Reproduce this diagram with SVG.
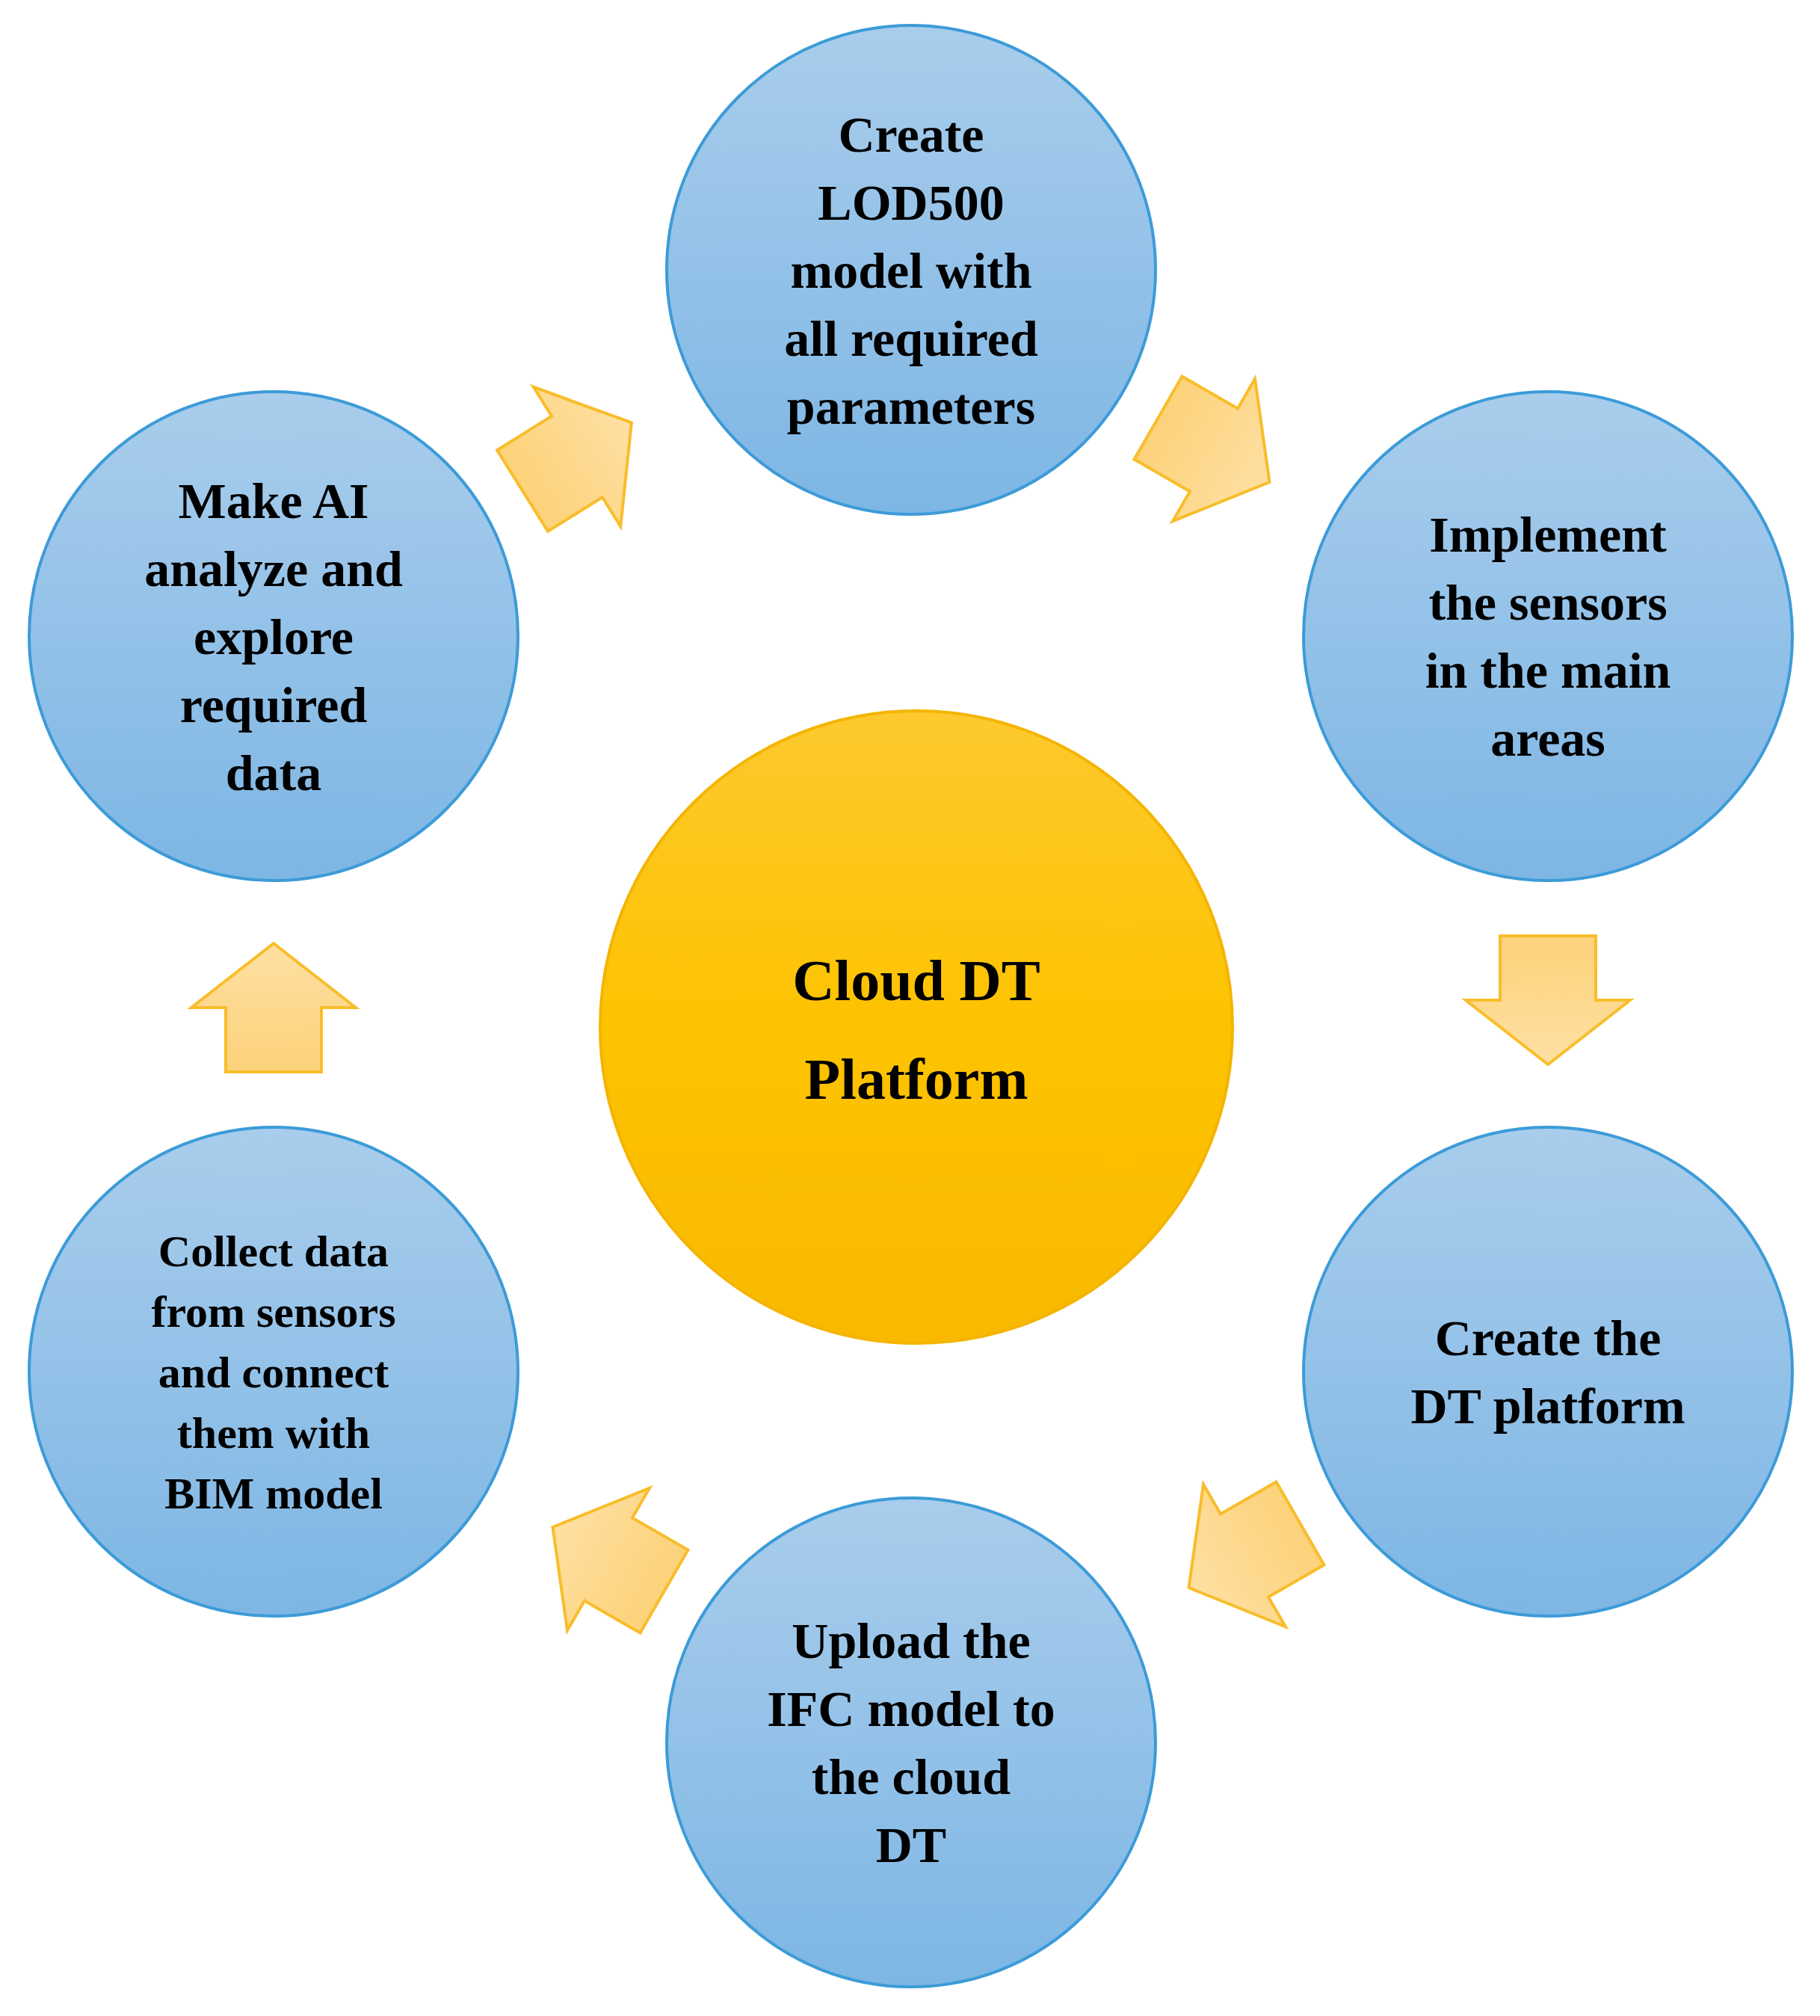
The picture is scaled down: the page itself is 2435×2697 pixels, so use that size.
<svg xmlns="http://www.w3.org/2000/svg" width="2435" height="2697" viewBox="0 0 2435 2697">
<defs>
<linearGradient id="gb" x1="0" y1="0" x2="0" y2="1"><stop offset="0" stop-color="#a9cdec"/><stop offset="1" stop-color="#7db6e4"/></linearGradient>
<linearGradient id="gy" x1="0" y1="0" x2="0" y2="1"><stop offset="0" stop-color="#fdc92e"/><stop offset="0.5" stop-color="#fdc300"/><stop offset="1" stop-color="#f8b900"/></linearGradient>
<linearGradient id="ga" x1="0" y1="0" x2="1" y2="0"><stop offset="0" stop-color="#fcd27a"/><stop offset="1" stop-color="#ffe0a3"/></linearGradient>
<polygon id="arr" points="-86,-64 0,-64 0,-110 86,0 0,110 0,64 -86,64"/>
</defs>
<style>
.b{fill:url(#gb);stroke:#3c9bd8;stroke-width:4}
.c{fill:url(#gy);stroke:#f4b400;stroke-width:4}
.a{fill:url(#ga);stroke:#f8bd2a;stroke-width:4}
text{font-family:"Liberation Serif","DejaVu Serif",serif;font-weight:bold;fill:#000;text-anchor:middle}
.t{font-size:68px}
.s{font-size:60px}
.l{font-size:78px}
</style>
<rect width="2435" height="2697" fill="#fff"/>
<g id="connectors">
<use href="#arr" class="a" transform="translate(772,611) rotate(-32)"/>
<use href="#arr" class="a" transform="translate(1624,602) rotate(30)"/>
<use href="#arr" class="a" transform="translate(2071,1338) rotate(90)"/>
<use href="#arr" class="a" transform="translate(1665,2081) rotate(150)"/>
<use href="#arr" class="a" transform="translate(814,2086) rotate(210)"/>
<use href="#arr" class="a" transform="translate(366,1348) rotate(-90)"/>
</g>
<g id="center"><circle class="c" cx="1226" cy="1374" r="423"/>
<text class="l" x="1226" y="1338">Cloud DT</text><text class="l" x="1226" y="1470">Platform</text></g>
<g id="n1"><circle class="b" cx="1219" cy="361" r="327"/>
<text class="t"><tspan x="1219" y="203">Create</tspan><tspan x="1219" y="294">LOD500</tspan><tspan x="1219" y="385">model with</tspan><tspan x="1219" y="476">all required</tspan><tspan x="1219" y="567">parameters</tspan></text></g>
<g id="n2"><circle class="b" cx="2071" cy="851" r="327"/>
<text class="t"><tspan x="2071" y="738">Implement</tspan><tspan x="2071" y="829">the sensors</tspan><tspan x="2071" y="920">in the main</tspan><tspan x="2071" y="1011">areas</tspan></text></g>
<g id="n3"><circle class="b" cx="2071" cy="1835" r="327"/>
<text class="t"><tspan x="2071" y="1813">Create the</tspan><tspan x="2071" y="1904">DT platform</tspan></text></g>
<g id="n4"><circle class="b" cx="1219" cy="2331" r="327"/>
<text class="t"><tspan x="1219" y="2218">Upload the</tspan><tspan x="1219" y="2309">IFC model to</tspan><tspan x="1219" y="2400">the cloud</tspan><tspan x="1219" y="2491">DT</tspan></text></g>
<g id="n5"><circle class="b" cx="366" cy="1835" r="327"/>
<text class="s"><tspan x="366" y="1694">Collect data</tspan><tspan x="366" y="1775">from sensors</tspan><tspan x="366" y="1856">and connect</tspan><tspan x="366" y="1937">them with</tspan><tspan x="366" y="2018">BIM model</tspan></text></g>
<g id="n6"><circle class="b" cx="366" cy="851" r="327"/>
<text class="t"><tspan x="366" y="693">Make AI</tspan><tspan x="366" y="784">analyze and</tspan><tspan x="366" y="875">explore</tspan><tspan x="366" y="966">required</tspan><tspan x="366" y="1057">data</tspan></text></g>
</svg>
